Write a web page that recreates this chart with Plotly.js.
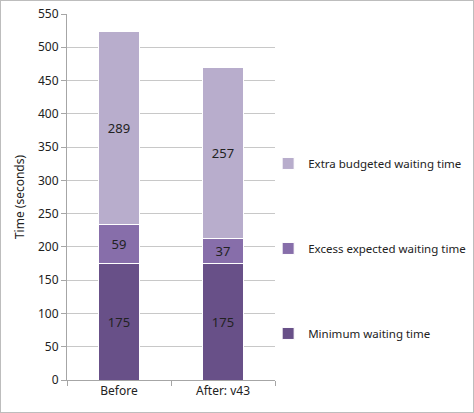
<!DOCTYPE html>
<html>
<head>
<meta charset="utf-8">
<script src="https://cdn.plot.ly/plotly-3.0.1.min.js"></script>
<style>
  html, body { margin: 0; padding: 0; background: #fff; }
  #chart { width: 472px; height: 411px; border: 1px solid #bdbdbd; }
</style>
</head>
<body>
<div id="chart"></div>
<script>
const categories = ['Before', 'After: v43'];
const minimumWait = [175, 175];
const excessWait = [59, 37];
const extraWait = [289, 257];
const names = ['Minimum waiting time', 'Excess expected waiting time', 'Extra budgeted waiting time'];
const colors = ['#685088', '#876eaa', '#b8adcc'];

function bar(values, i) {
	return {
		x: categories,
		y: values,
		type: 'bar',
		name: names[i],
		legendgroup: 'g' + i,
		legendrank: 3 - i,
		text: values.map(String),
		textposition: 'inside',
		insidetextanchor: 'middle',
		textfont: {color: '#222', size: 13, family: 'Noto Sans, sans-serif'},
		marker: {color: colors[i], line: {color: '#fff', width: 1}},
		hoverinfo: 'skip'
	};
}

let data = [bar(minimumWait, 0), bar(excessWait, 1), bar(extraWait, 2)];

let layout = {
	barmode: 'stack',
	bargap: 0.61,
	width: 472,
	height: 411,
	margin: {l: 66, r: 198, t: 13, b: 32, autoexpand: false},
	paper_bgcolor: '#fff',
	plot_bgcolor: '#fff',
	font: {family: 'Noto Sans, sans-serif', size: 12, color: '#333'},
	showlegend: true,
	legend: {
		xref: 'container', yref: 'container',
		x: 0.566, xanchor: 'left',
		y: 0.64, yanchor: 'top',
		traceorder: 'grouped',
		tracegroupgap: 66,
		bgcolor: 'rgba(0,0,0,0)',
		font: {size: 11.5, color: '#222'},
		itemwidth: 30
	},
	xaxis: {
		type: 'category',
		showline: true,
		linecolor: '#a6a6a6',
		ticks: 'outside',
		tickson: 'boundaries',
		ticklen: 5,
		tickcolor: '#a6a6a6',
		tickfont: {size: 12, color: '#222'}
	},
	yaxis: {
		title: {text: 'Time (seconds)', font: {size: 12, color: '#222'}, standoff: 10},
		range: [0, 550],
		dtick: 50,
		showline: true,
		linecolor: '#a6a6a6',
		ticks: 'outside',
		ticklen: 5,
		tickcolor: '#a6a6a6',
		gridcolor: '#c8c8c8',
		zeroline: false,
		tickfont: {size: 12, color: '#222'}
	}
};

Plotly.newPlot('chart', data, layout, {displayModeBar: false, staticPlot: true});
</script>
</body>
</html>
